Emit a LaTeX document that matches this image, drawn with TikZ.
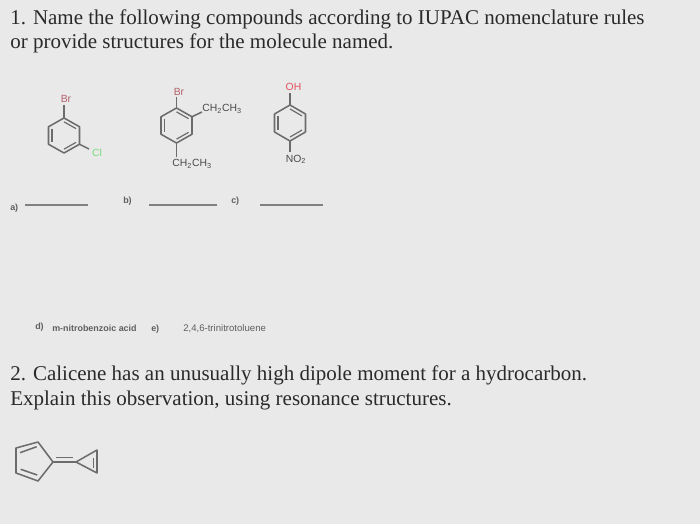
\documentclass[tikz,border=0pt]{standalone}
\usepackage{fontspec}
\setmainfont{Liberation Serif}
\setsansfont{Liberation Sans}
\usetikzlibrary{calc}
\definecolor{pagegray}{HTML}{E9E9E9}
\definecolor{bondgray}{HTML}{6C6C6C}
\definecolor{inkgray}{HTML}{2A2A2A}
\definecolor{brred}{HTML}{B4606A}
\definecolor{ohred}{HTML}{E0525E}
\definecolor{clgreen}{HTML}{7ADB7A}
\tikzset{
	bond/.style={draw=bondgray,line width=1.15pt,line join=round},
	question/.style={anchor=base west,inner sep=0pt,text=inkgray,font=\fontsize{15.75}{18}\selectfont},
	atom/.style={inner sep=0pt,font=\sffamily\fontsize{7.8}{9}\selectfont,text=inkgray!85},
	tag/.style={inner sep=0pt,anchor=base west,font=\sffamily\bfseries\fontsize{6.7}{8}\selectfont,text=inkgray!75},
	blank/.style={draw=gray,line width=0.9pt}
}
% ring: name, centre x, centre y, half height, half width
\newcommand{\benzene}[5]{
	\coordinate (#1c) at (#2,#3);
	\coordinate (#1t) at (#2,#3-#4);
	\coordinate (#1b) at (#2,#3+#4);
	\coordinate (#1ur) at (#2+#5,#3-#4/2);
	\coordinate (#1lr) at (#2+#5,#3+#4/2);
	\coordinate (#1ul) at (#2-#5,#3-#4/2);
	\coordinate (#1ll) at (#2-#5,#3+#4/2);
	\draw[bond] (#1t) -- (#1ur) -- (#1lr) -- (#1b) -- (#1ll) -- (#1ul) -- cycle;
	\foreach \p/\q in {#1ul/#1ll,#1t/#1ur,#1b/#1lr}
		\draw[bond,line width=0.9pt] ($(\p)!0.22!(#1c)$) -- ($(\q)!0.22!(#1c)$);
}
\begin{document}
\begin{tikzpicture}[x=0.75pt,y=-0.75pt]
	\useasboundingbox[fill=pagegray] (0,0) rectangle (700,524);
	% question 1
	\node[question] (qa) at (10,24.5) {1. Name the following compounds according to IUPAC nomenclature rules};
	\node[question] (qb) at (10,48.5) {or provide structures for the molecule named.};

	% a
	\benzene{a}{64}{135.5}{17.5}{15.5}
	\node[atom,text=brred] (abr) at (66,99) {Br};
	\node[atom,text=clgreen] (acl) at (97,153) {Cl};
	\coordinate (abrend) at (64,105);
	\coordinate (aclend) at (89,149);
	\draw[bond] (at) -- (abrend);
	\draw[bond] (alr) -- (aclend);

	% b
	\benzene{b}{176.5}{125.5}{17.5}{15.5}
	\node[atom,text=brred] (bbr) at (179,91.5) {Br};
	\node[atom] (bup) at (222,109) {CH\textsubscript{2}CH\textsubscript{3}};
	\node[atom] (bdn) at (192,164) {CH\textsubscript{2}CH\textsubscript{3}};
	\coordinate (bbrend) at (176.5,97);
	\coordinate (bupend) at (202,112);
	\coordinate (bdnend) at (176.5,157);
	\draw[bond] (bt) -- (bbrend);
	\draw[bond] (bur) -- (bupend);
	\draw[bond] (bb) -- (bdnend);

	% c
	\benzene{c}{290}{123}{18}{15.5}
	\node[atom,text=ohred] (coh) at (293.5,87) {OH};
	\node[atom] (cno) at (296,159.5) {NO\textsubscript{2}};
	\coordinate (cohend) at (290,93);
	\coordinate (cnoend) at (290,152);
	\draw[bond] (ct) -- (cohend);
	\draw[bond] (cb) -- (cnoend);

	% answer lines
	\node[tag] (la) at (10,211) {a)};
	\node[tag] (lb) at (123,204) {b)};
	\node[tag] (lc) at (231,204) {c)};
	\coordinate (aw) at (25,205);
	\coordinate (ae) at (88,205);
	\coordinate (bw) at (149,205);
	\coordinate (be) at (217,205);
	\coordinate (cw) at (260,205);
	\coordinate (ce) at (323,205);
	\draw[blank] (aw) -- (ae);
	\draw[blank] (bw) -- (be);
	\draw[blank] (cw) -- (ce);

	\node[tag] (ld) at (35,329) {d)};
	\node[tag] (nd) at (52,331) {m-nitrobenzoic acid};
	\node[tag] (le) at (151,331) {e)};
	\node[tag,font=\sffamily\fontsize{7.2}{8}\selectfont] (ne) at (183,331) {2,4,6-trinitrotoluene};

	% question 2
	\node[question] (qc) at (10,380) {2. Calicene has an unusually high dipole moment for a hydrocarbon.};
	\node[question] (qd) at (10,405) {Explain this observation, using resonance structures.};

	% calicene
	\coordinate (p1) at (16,448);
	\coordinate (p2) at (38,442);
	\coordinate (p3) at (53,462);
	\coordinate (p4) at (38,481);
	\coordinate (p5) at (16,473);
	\coordinate (t1) at (76,462);
	\coordinate (t2) at (97,450);
	\coordinate (t3) at (97,473);
	\draw[bond] (p1) -- (p2) -- (p3) -- (p4) -- (p5) -- cycle;
	\draw[bond] (t1) -- (t2) -- (t3) -- cycle;
	\draw[bond] (p3) -- (t1);
	\draw[bond] ($(p3)+(3,-4.3)$) -- ($(t1)+(-3,-4.3)$);
	\draw[bond] ($(p1)+(4,4.7)$) -- ($(p2)+(-1.3,4.7)$);
	\draw[bond] ($(p5)+(4.7,-3.7)$) -- ($(p4)+(-0.7,-6)$);
	\draw[bond] ($(t2)+(-3.3,8)$) -- ($(t3)+(-3.3,-5)$);
\end{tikzpicture}
\end{document}
